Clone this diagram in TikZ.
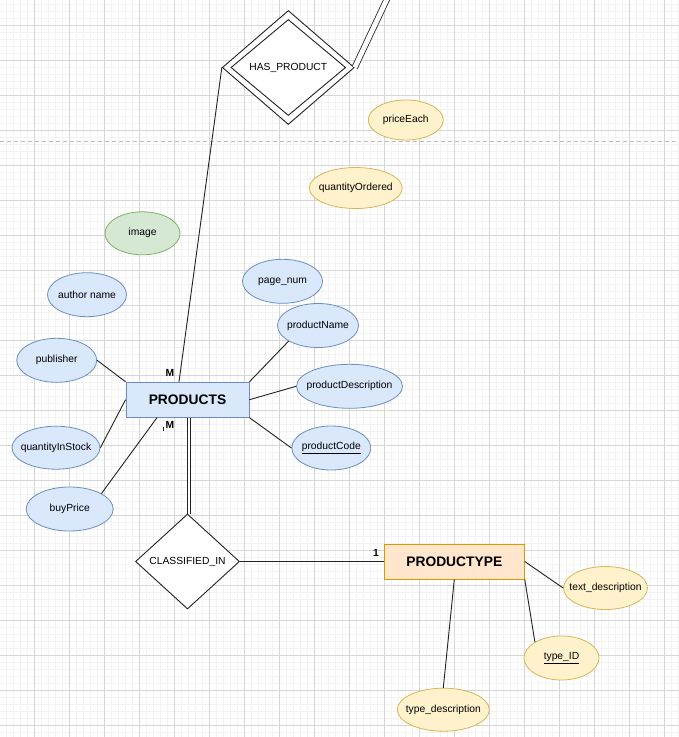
\documentclass[tikz,border=0pt]{standalone}
\usepackage{fontspec}
\setmainfont{Liberation Sans}
\usetikzlibrary{shapes.geometric}
\definecolor{bluef}{HTML}{DAE8FC}
\definecolor{blues}{HTML}{6C8EBF}
\definecolor{orangef}{HTML}{FFE6CC}
\definecolor{oranges}{HTML}{D79B00}
\definecolor{yellowf}{HTML}{FFF2CC}
\definecolor{yellows}{HTML}{D6B656}
\definecolor{greenf}{HTML}{D5E8D4}
\definecolor{greens}{HTML}{82B366}
\definecolor{minorg}{HTML}{F3F3F3}
\definecolor{majorg}{HTML}{D6D6D6}
\definecolor{dashg}{HTML}{BDBDBD}
\definecolor{linec}{HTML}{222222}
\newcommand\zw[1]{\makebox[0pt]{#1}}
\begin{document}
\begin{tikzpicture}[x=1pt,y=-1pt,
  minorgrid/.style={draw=minorg, line width=1pt},
  majorgrid/.style={draw=majorg, line width=0.8pt},
  small/.style={font=\fontsize{10.3pt}{12pt}\selectfont},
  attr/.style={ellipse, draw, line width=0.8pt, inner sep=0pt, small},
  battr/.style={attr, fill=bluef, draw=blues},
  yattr/.style={attr, fill=yellowf, draw=yellows},
  gattr/.style={attr, fill=greenf, draw=greens},
  entity/.style={rectangle, draw, line width=0.9pt, inner sep=0pt, font=\fontsize{13.8pt}{16pt}\selectfont\bfseries},
  rel/.style={diamond, draw=linec, fill=white, line width=0.9pt, inner sep=0pt, small},
  conn/.style={draw=linec, line width=0.9pt},
  dbl/.style={draw=linec, line width=0.8pt, double=white},
  card/.style={font=\fontsize{10.3pt}{12pt}\selectfont\bfseries, inner sep=0pt}
]
\useasboundingbox (0,0) rectangle (679,737);
\fill[white] (0,0) rectangle (679,737);
\begin{scope}
\clip (0,0) rectangle (679,737);
\foreach \i in {0,...,97} \draw[minorgrid] ({-0.7+7*\i},0) -- ++(0,737);
\foreach \i in {0,...,105} \draw[minorgrid] (0,{4.5+7*\i}) -- ++(679,0);
\foreach \i in {-1,...,19} \draw[majorgrid] ({34.3+35*\i},0) -- ++(0,737);
\foreach \i in {-1,...,20} \draw[majorgrid] (0,{25.5+35*\i}) -- ++(679,0);
\draw[draw=dashg, line width=1pt, dash pattern=on 4pt off 3pt] (0,141.5) -- (679,141.5);
\end{scope}

% relationships
\node[rel, minimum width=132pt, minimum height=114pt] (hp) at (288.3,67.5) {};
\node[rel, minimum width=114.7pt, minimum height=96pt] (hpin) at (hp) {\zw{HAS\_PRODUCT}};
\node[rel, minimum width=104pt, minimum height=95pt] (cl) at (187.5,561.5) {\zw{CLASSIFIED\_IN}};

% entities
\node[entity, fill=bluef, draw=blues, minimum width=123pt, minimum height=35pt] (products) at (187.5,399.7) {PRODUCTS};
\node[entity, fill=orangef, draw=oranges, minimum width=140pt, minimum height=35pt] (pt) at (454.3,561.5) {PRODUCTYPE};

% attributes
\node[gattr, minimum width=75pt, minimum height=43pt] (img) at (142.5,233.3) {\zw{image}};
\node[battr, minimum width=79pt, minimum height=44pt] (auth) at (87,294.7) {\zw{author name}};
\node[battr, minimum width=80pt, minimum height=44pt] (pub) at (56.7,360.3) {\zw{publisher}};
\node[battr, minimum width=88pt, minimum height=43pt] (qis) at (56,447.7) {\zw{quantityInStock}};
\node[battr, minimum width=87pt, minimum height=44pt] (bp) at (69.7,509) {\zw{buyPrice}};
\node[battr, minimum width=80pt, minimum height=44pt] (pgn) at (282.5,281.3) {\zw{page\_num}};
\node[battr, minimum width=81pt, minimum height=44pt] (pn) at (318,325.5) {\zw{productName}};
\node[battr, minimum width=106pt, minimum height=44pt] (pd) at (349.5,386.3) {\zw{productDescription}};
\node[battr, minimum width=79pt, minimum height=44pt] (pc) at (331.3,448) {\zw{\underline{productCode}}};
\node[yattr, minimum width=75pt, minimum height=40pt] (pe) at (405.8,120) {\zw{priceEach}};
\node[yattr, minimum width=93pt, minimum height=41pt] (qo) at (355.8,188) {\zw{quantityOrdered}};
\node[yattr, minimum width=84pt, minimum height=43pt] (td) at (605.5,588) {\zw{text\_description}};
\node[yattr, minimum width=75pt, minimum height=44pt] (tid) at (561.5,658) {\zw{\underline{type\_ID}}};
\node[yattr, minimum width=92pt, minimum height=43pt] (tds) at (443.3,709.7) {\zw{type\_description}};

% connectors
\coordinate (topend) at (388.9,-5);
\draw[dbl, double distance=4.8pt] (hp.east) -- (topend);
\draw[conn] (hp.west) -- ([xshift=-8.5pt]products.north);
\draw[dbl, double distance=2.3pt] ([xshift=1.5pt]products.south) -- ([xshift=1.5pt]cl.north);
\draw[conn] (cl.east) -- (pt.west);
\draw[conn] (pub.east) -- (products.north west);
\draw[conn] (qis.east) -- (products.west);
\draw[conn] (bp.26) -- ([xshift=-30.5pt]products.south);
\draw[conn] (products.north east) -- (pn.208);
\draw[conn] (products.east) -- (pd.west);
\draw[conn] (products.south east) -- (pc.west);
\draw[conn] (pt.east) -- (td.west);
\draw[conn] (pt.south east) -- (tid.149);
\draw[conn] (pt.south) -- (tds.north);

% cardinalities
\node[card] (m1) at (170,373) {M};
\node[card] (m2) at (170,425) {M};
\draw[linec, line width=0.6pt] (163.3,426.7) -- (163.3,430.7);
\node[card] (one) at (376,553) {1};
\end{tikzpicture}
\end{document}
